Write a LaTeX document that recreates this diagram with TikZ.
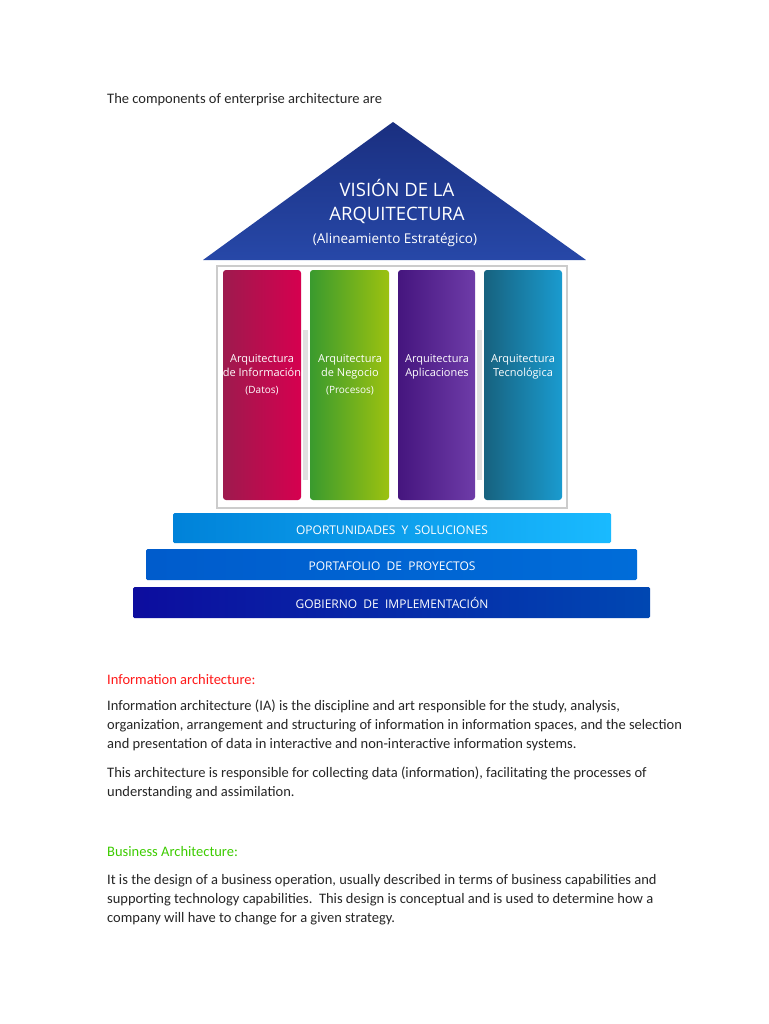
\documentclass[tikz,border=0pt]{standalone}
\usepackage{fontspec}
\setmainfont{Carlito}
\newfontfamily\dfont{Open Sans}
\definecolor{roofA}{HTML}{1A2F80}
\definecolor{roofB}{HTML}{2748A8}
\definecolor{r1}{HTML}{9E1A4E}\definecolor{r2}{HTML}{D6004F}
\definecolor{g1}{HTML}{3A9A2E}\definecolor{g2}{HTML}{9CC210}
\definecolor{v1}{HTML}{45157E}\definecolor{v2}{HTML}{6E3CA8}
\definecolor{t1}{HTML}{17627F}\definecolor{t2}{HTML}{1A9BCF}
\begin{document}
\begin{tikzpicture}[x=1pt,y=-1pt,
 body/.style={anchor=west,inner sep=0pt,font=\fontsize{14.5}{19}\selectfont,text=black!85},
 pil/.style={rounded corners=3pt,draw=none},
 ptext/.style={text=white,font=\dfont\fontsize{11}{14}\selectfont,align=center},
 bar/.style={rounded corners=1.5pt,draw=none},
 btext/.style={text=white,font=\dfont\fontsize{12}{14}\selectfont}]
\useasboundingbox (0,0) rectangle (768,1024);
\fill[white] (0,0) rectangle (768,1024);
\node[body] (t0) at (107,100) {The components of enterprise architecture are};
% roof
\shade[top color=roofA,bottom color=roofB] (203,260) -- (393,122) -- (586,260) -- cycle;
\node[text=white,font=\dfont\fontsize{18.5}{24}\selectfont,align=center] (roof) at (397,201) {VISIÓN DE LA\\ARQUITECTURA};
\node[text=white,font=\dfont\fontsize{13.5}{16}\selectfont] (roof2) at (395,240) {(Alineamiento Estratégico)};
% frame
\draw[black!20,line width=1.2pt,fill=white] (217,266) rectangle (567,508);
\fill[black!12] (303,330) rectangle (308,480);
\fill[black!12] (477,330) rectangle (482,480);
\shade[pil,left color=r1,right color=r2] (223,270) rectangle (301,500);
\shade[pil,left color=g1,right color=g2] (310,270) rectangle (389,500);
\shade[pil,left color=v1,right color=v2] (398,270) rectangle (475,500);
\shade[pil,left color=t1,right color=t2] (484,270) rectangle (562,500);
\node[ptext] (p1) at (262,375) {Arquitectura\\de Información\\[3pt]\fontsize{10}{12}\selectfont(Datos)};
\node[ptext] (p2) at (350,375) {Arquitectura\\de Negocio\\[3pt]\fontsize{10}{12}\selectfont(Procesos)};
\node[ptext] (p3) at (437,367) {Arquitectura\\Aplicaciones};
\node[ptext] (p4) at (523,367) {Arquitectura\\Tecnológica};
% bars
\shade[bar,left color=cyan!60!blue!85!black,right color=cyan!70!blue!90] (173,513) rectangle (611,543);
\shade[bar,left color=blue!55!cyan!80!black,right color=blue!50!cyan!85!black] (146,549) rectangle (637,580);
\shade[bar,left color=blue!60!black!95,right color=blue!60!cyan!70!black] (133,587) rectangle (650,618);
\node[btext] (b1) at (392,530) {OPORTUNIDADES\ \ Y\ \ SOLUCIONES};
\node[btext] (b2) at (392,566) {PORTAFOLIO\ \ DE\ \ PROYECTOS};
\node[btext] (b3) at (392,603) {GOBIERNO\ \ DE\ \ IMPLEMENTACIÓN};
% text
\node[body,text=red!90] (h1) at (107,680) {Information architecture:};
\node[body,anchor=north west] (pa) at (107,700) {\parbox{600pt}{Information architecture (IA) is the discipline and art responsible for the study, analysis,\\ organization, arrangement and structuring of information in information spaces, and the selection\\ and presentation of data in interactive and non-interactive information systems.}};
\node[body,anchor=north west] (pb) at (107,767) {\parbox{600pt}{This architecture is responsible for collecting data (information), facilitating the processes of\\ understanding and assimilation.}};
\node[body,text=green!60!lime!80!black] (h2) at (107,852) {Business Architecture:};
\node[body,anchor=north west] (pc) at (107,874) {\parbox{600pt}{It is the design of a business operation, usually described in terms of business capabilities and\\ supporting technology capabilities.\ \ This design is conceptual and is used to determine how a\\ company will have to change for a given strategy.}};
\end{tikzpicture}
\end{document}
